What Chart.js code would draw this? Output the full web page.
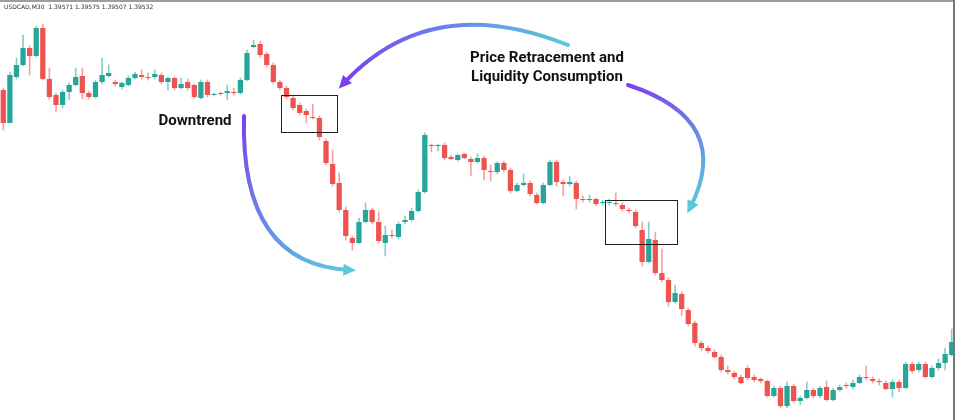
<!DOCTYPE html>
<html>
<head>
<meta charset="utf-8">
<script src="https://cdn.jsdelivr.net/npm/chart.js@4/dist/chart.umd.min.js"></script>
<style>
  html, body { margin: 0; padding: 0; background: #fff; }
  #wrap { position: relative; width: 960px; height: 420px; }
  #wrap canvas { position: absolute; left: 0; top: 0; }
</style>
</head>
<body>
<div id="wrap"><canvas id="chart" width="955" height="420"></canvas></div>
<script>
// candle values, in chart units (axis reversed, 0 = top)
const opens = [90,123,77,65,48,56,28,79,95,105,92,85,76,93,97,82,76,82,87,85,78,75,77,77,75,82,78,88,82,85,98,82,95,93,93,92,93,80,47,44,54,65,82,88,98,105,111,117,118,
  141,164,183,210,238,243,222,210,222,243,235,237,222,220,211,192,145,146,145,157,160,154,159,162,158,171,172,163,170,191,185,183,195,203,185,162,182,184,183,199,200,199,203,203,203,205,210,212,
  230,262,240,273,280,302,294,310,323,343,348,352,357,370,373,377,368,377,379,381,396,388,406,386,401,398,390,396,387,400,390,385,387,383,377,379,381,383,389,382,388,364,370,364,377,368,363,355]
const closes = [123,75,65,48,56,28,79,97,105,92,85,77,93,97,82,75,73,84,83,78,74,77,78,74,82,78,88,84,88,97,82,95,94,94,91,93,80,53,45,55,65,82,88,97,108,113,115,118,137,
  163,184,210,236,243,222,210,222,241,235,236,224,220,211,192,135,146,145,158,159,155,158,162,158,170,172,163,170,191,185,183,194,203,185,162,182,184,182,199,200,199,204,202,202,204,209,211,226,
  262,239,273,280,302,293,309,324,343,348,351,357,370,372,377,383,378,380,381,396,388,406,386,401,398,390,396,388,400,390,387,386,383,377,378,381,382,389,382,388,364,371,364,377,368,363,354,342]
const highs = [88,72,58,35,46,26,24,68,93,90,83,68,68,91,80,58,65,80,82,76,72,70,73,70,73,77,77,78,79,84,80,80,93,92,85,88,78,50,40,41,52,63,80,86,96,103,109,104,116,
  139,150,173,207,236,218,203,208,212,226,230,222,216,208,190,133,144,144,143,155,154,153,157,154,156,165,162,161,168,183,174,181,193,183,160,160,180,176,181,196,195,198,200,199,193,203,208,210,
  222,222,232,249,278,285,292,308,321,341,346,350,355,366,371,375,366,375,378,380,386,386,382,384,396,382,388,386,381,388,385,383,380,375,366,377,379,381,380,380,362,362,362,362,366,359,348,329]
const lows = [130,123,79,66,75,57,80,99,112,108,100,86,99,99,98,84,77,86,89,86,79,79,80,79,84,90,90,89,90,98,99,97,96,95,100,95,94,81,48,57,67,84,90,99,110,115,123,119,140,
  165,186,212,240,250,244,223,224,243,256,238,239,224,221,212,193,152,151,160,160,161,159,176,163,180,181,174,172,193,192,186,196,204,204,186,186,196,186,209,202,202,206,205,205,206,211,213,228,
  266,263,275,282,306,303,316,326,346,351,353,358,372,374,379,384,380,382,383,397,397,408,408,402,405,399,398,398,401,401,391,388,389,384,380,383,385,390,397,392,389,373,372,378,378,370,370,356]
const labels = opens.map((v, i) => i + 1)

const UP = '#26a69a', DOWN = '#ef5350'
const isDown = opens.map((o, i) => closes[i] > o)
const bodyColors = isDown.map(d => d ? DOWN : UP)
const wickColors = isDown.map(d => d ? 'rgba(239,83,80,0.55)' : 'rgba(38,166,154,0.55)')

const annotations = {
  id: 'annotations',
  afterDraw(chart) {
    const g = chart.ctx
    g.save()
    // top bar and right axis
    g.fillStyle = '#9e9e9e'; g.fillRect(0, 0, 955, 2)
    g.fillStyle = '#777'; g.fillRect(953, 0, 2, 420)
    g.fillStyle = '#333'; g.font = '6px "DejaVu Sans"'; g.textBaseline = 'top'
    g.fillText('USDCAD,M30  1.39571 1.39575 1.39507 1.39532', 4, 4)
    // boxes
    g.strokeStyle = '#222'; g.lineWidth = 1
    g.strokeRect(281.5, 95.5, 56, 37)
    g.strokeRect(605.5, 200.5, 72, 44)
    // labels
    g.fillStyle = '#111'; g.font = 'bold 15px Roboto'; g.textAlign = 'center'; g.textBaseline = 'middle'
    g.fillText('Downtrend', 195, 121)
    g.fillText('Price Retracement and', 547, 58)
    g.fillText('Liquidity Consumption', 547, 77)
    // curved arrows
    const arrow = (p0, cp, p1, c0, c1) => {
      const grad = g.createLinearGradient(p0[0], p0[1], p1[0], p1[1])
      grad.addColorStop(0, c0); grad.addColorStop(1, c1)
      g.strokeStyle = grad; g.lineWidth = 4; g.lineCap = 'round'
      g.beginPath(); g.moveTo(p0[0], p0[1]); g.quadraticCurveTo(cp[0], cp[1], p1[0], p1[1]); g.stroke()
      const a = Math.atan2(p1[1] - cp[1], p1[0] - cp[0])
      g.fillStyle = c1; g.beginPath()
      g.moveTo(p1[0] + 6 * Math.cos(a), p1[1] + 6 * Math.sin(a))
      g.lineTo(p1[0] + 9 * Math.cos(a + 2.4), p1[1] + 9 * Math.sin(a + 2.4))
      g.lineTo(p1[0] + 9 * Math.cos(a - 2.4), p1[1] + 9 * Math.sin(a - 2.4))
      g.fill()
    }
    arrow([244, 116], [240, 265], [350, 270], '#7b3ff2', '#5bc8dc')
    arrow([568, 45], [430, -10], [343, 84], '#5bc8dc', '#7b3ff2')
    arrow([628, 85], [735, 120], [690, 208], '#7b3ff2', '#5bc8dc')
    g.restore()
  }
}

new Chart(document.getElementById('chart'), {
  type: 'bar',
  data: {
    labels: labels,
    datasets: [
      { data: lows.map((l, i) => [l, highs[i]]), backgroundColor: wickColors, barThickness: 1, grouped: false },
      { data: opens.map((o, i) => o === closes[i] ? [o, o + 1] : [o, closes[i]]), backgroundColor: bodyColors,
        barPercentage: 0.8, categoryPercentage: 1, grouped: false, minBarLength: 1 }
    ]
  },
  options: {
    responsive: false,
    animation: false,
    layout: { padding: 0 },
    plugins: { legend: { display: false }, tooltip: { enabled: false } },
    scales: {
      x: { display: false },
      y: { display: false, reverse: true, min: 0, max: 420 }
    }
  },
  plugins: [annotations]
})
</script>
</body>
</html>
